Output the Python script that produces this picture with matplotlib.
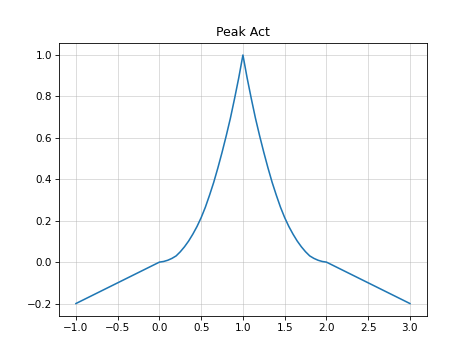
import numpy as np
import matplotlib

matplotlib.use("Agg")
import matplotlib.pyplot as plt

# values (rising half, then falling half)
x_rise = [-1.0, 0.0, 0.05, 0.1, 0.15, 0.2, 0.25, 0.3, 0.35, 0.4, 0.45, 0.5,
          0.55, 0.6, 0.65, 0.7, 0.75, 0.8, 0.85, 0.9, 0.95, 1.0]
y_rise = [-0.2, 0.0, 0.003, 0.009, 0.018, 0.03, 0.05, 0.074, 0.102, 0.135, 0.172, 0.215,
          0.265, 0.323, 0.385, 0.455, 0.53, 0.61, 0.695, 0.79, 0.89, 1.0]
x_fall = [1.05, 1.1, 1.15, 1.2, 1.25, 1.3, 1.35, 1.4, 1.45, 1.5, 1.55, 1.6,
          1.65, 1.7, 1.75, 1.8, 1.85, 1.9, 1.95, 2.0, 3.0]
y_fall = [0.89, 0.79, 0.695, 0.61, 0.53, 0.455, 0.385, 0.323, 0.265, 0.215, 0.172, 0.135,
          0.102, 0.074, 0.05, 0.03, 0.018, 0.009, 0.003, 0.0, -0.2]
title = "Peak Act"


def main():
    fig, ax = plt.subplots(figsize=(474 / 75, 355 / 75), dpi=75)
    ax.plot(x_rise + x_fall, y_rise + y_fall)
    ax.set_title(title)
    ax.grid(True, alpha=0.5)
    return fig, ax


if __name__ == "__main__":
    fig, _ = main()
    fig.savefig("out.png", dpi=75)
